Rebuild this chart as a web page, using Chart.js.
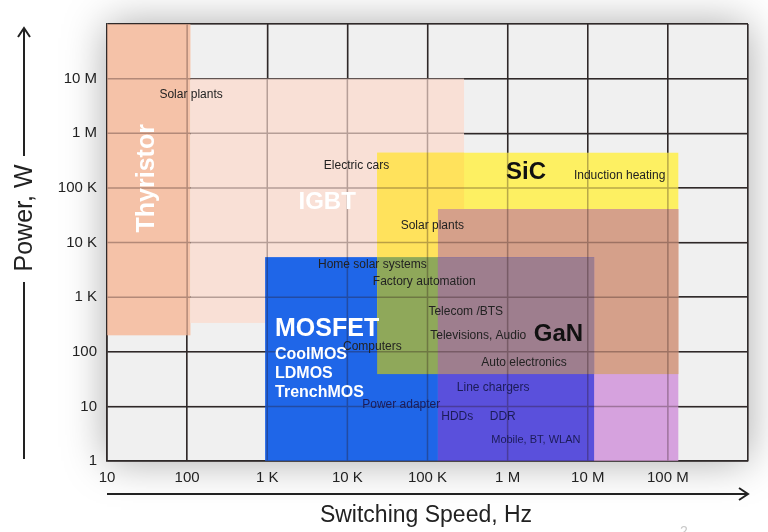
<!DOCTYPE html>
<html>
<head>
<meta charset="utf-8">
<script src="https://cdn.jsdelivr.net/npm/chart.js@4.4.1/dist/chart.umd.min.js"></script>
<style>
  body { margin: 0; background: #fff; }
  canvas { display: block; }
</style>
</head>
<body>
<canvas id="chart" width="768" height="532"></canvas>
<script>
// axis ticks (Hz and W, log scales)
const xTickValues = [10, 100, 1e3, 1e4, 1e5, 1e6, 1e7, 1e8, 1e9];
const xTickLabels = ["10", "100", "1 K", "10 K", "100 K", "1 M", "10 M", "100 M", ""];
const yTickValues = [1, 10, 100, 1e3, 1e4, 1e5, 1e6, 1e7, 1e8];
const yTickLabels = ["1", "10", "100", "1 K", "10 K", "100 K", "1 M", "10 M", ""];

// device regions: frequency range and power range
const regionNames = ["Thyristor", "IGBT", "SiC", "MOSFET", "GaN"];
const regionFreqMin = [10, 110, 2.35e4, 940, 1.35e5];
const regionFreqMax = [110, 2.86e5, 1.35e8, 1.2e7, 1.35e8];
const regionPowerMin = [200, 337, 39, 1, 1];
const regionPowerMax = [1e8, 1e7, 4.4e5, 5.4e3, 4.1e4];

// application labels placed at (frequency, power)
const appTexts = ["Solar plants", "Electric cars", "Induction heating", "Solar plants",
  "Home solar systems", "Factory automation", "Telecom /BTS", "Televisions, Audio",
  "Computers", "Auto electronics", "Line chargers", "Power adapter", "HDDs", "DDR",
  "Mobile, BT, WLAN"];
const appFreq = [112, 1.3e4, 2.5e7, 1.15e5, 2.05e4, 9.1e4, 3e5, 4.3e5, 2.05e4, 1.6e6,
  6.6e5, 4.7e4, 2.35e5, 8.7e5, 2.25e6];
const appPower = [5e6, 2.5e5, 1.65e5, 2e4, 3.9e3, 1.9e3, 535, 195, 123, 62,
  21.8, 10.6, 6.4, 6.4, 2.4];

// technology names placed at (frequency, power)
const techTexts = ["Thyristor", "IGBT", "SiC", "GaN", "MOSFET", "CoolMOS", "LDMOS", "TrenchMOS"];
const techFreq = [32, 5.6e3, 1.7e6, 4.3e6, 1.25e3, 1.25e3, 1.25e3, 1.25e3];
const techPower = [1.5e5, 5.5e4, 1.9e5, 212, 262, 87, 39, 17.6];

// styling
const FONT = "'Liberation Sans', Arial, sans-serif";
const regionColors = {
  Thyristor: "#f5c2a8", IGBT: "#f9e0d6", SiC: "#fdf062", MOSFET: "#1f66e8", GaN: "#d6a2de"
};
const overlapColors = [
  [["IGBT", "SiC"], "#ffe25c"],
  [["SiC", "MOSFET"], "#8fa85a"],
  [["SiC", "GaN"], "#d5a08a"],
  [["MOSFET", "GaN"], "#5a50dc"],
  [["SiC", "MOSFET", "GaN"], "#9e7e8e"]
];
const navyLabels = ["Line chargers", "Power adapter", "HDDs", "DDR", "Mobile, BT, WLAN"];

function regionRect(name) {
  const i = regionNames.indexOf(name);
  return { x0: regionFreqMin[i], x1: regionFreqMax[i], y0: regionPowerMin[i], y1: regionPowerMax[i] };
}

function intersect(names) {
  let r = regionRect(names[0]);
  names.slice(1).forEach(n => {
    const o = regionRect(n);
    r = { x0: Math.max(r.x0, o.x0), x1: Math.min(r.x1, o.x1), y0: Math.max(r.y0, o.y0), y1: Math.min(r.y1, o.y1) };
  });
  return r;
}

const regionsPlugin = {
  id: "regions",
  beforeDraw(chart) {
    const { ctx, chartArea: a } = chart;
    ctx.save();
    ctx.shadowColor = "rgba(0,0,0,0.35)";
    ctx.shadowBlur = 40;
    ctx.fillStyle = "#f0f0f0";
    ctx.fillRect(a.left, a.top, a.right - a.left, a.bottom - a.top);
    ctx.restore();
  },
  beforeDatasetsDraw(chart) {
    const { ctx, chartArea: a } = chart;
    const xs = chart.scales.x, ys = chart.scales.y;
    const fillRect = (r, color) => {
      if (r.x0 >= r.x1 || r.y0 >= r.y1) return;
      const px0 = xs.getPixelForValue(r.x0), px1 = xs.getPixelForValue(r.x1);
      const py0 = ys.getPixelForValue(r.y0), py1 = ys.getPixelForValue(r.y1);
      ctx.fillStyle = color;
      ctx.fillRect(px0, py1, px1 - px0, py0 - py1);
    };
    ctx.save();
    regionNames.forEach(n => fillRect(regionRect(n), regionColors[n]));
    overlapColors.forEach(([names, color]) => fillRect(intersect(names), color));

    // grid shows through the coloured areas
    ctx.strokeStyle = "rgba(40,20,20,0.32)";
    ctx.lineWidth = 1.5;
    ctx.beginPath();
    xTickValues.forEach(v => {
      const p = xs.getPixelForValue(v);
      ctx.moveTo(p, a.top); ctx.lineTo(p, a.bottom);
    });
    yTickValues.forEach(v => {
      const p = ys.getPixelForValue(v);
      ctx.moveTo(a.left, p); ctx.lineTo(a.right, p);
    });
    ctx.stroke();
    ctx.restore();
  },
  afterDatasetsDraw(chart) {
    const { ctx, chartArea: a } = chart;
    const xs = chart.scales.x, ys = chart.scales.y;
    ctx.save();
    ctx.textBaseline = "middle";

    appTexts.forEach((t, i) => {
      ctx.font = (t === "Mobile, BT, WLAN" ? "11px " : "12px ") + FONT;
      ctx.fillStyle = navyLabels.includes(t) ? "#1c1c58" : "#222";
      ctx.textAlign = "center";
      ctx.fillText(t, xs.getPixelForValue(appFreq[i]), ys.getPixelForValue(appPower[i]));
    });

    techTexts.forEach((t, i) => {
      const px = xs.getPixelForValue(techFreq[i]), py = ys.getPixelForValue(techPower[i]);
      if (t === "Thyristor") {
        ctx.save();
        ctx.translate(px, py);
        ctx.rotate(-Math.PI / 2);
        ctx.font = "bold 25px " + FONT;
        ctx.fillStyle = "#fff";
        ctx.textAlign = "center";
        ctx.fillText(t, 0, 0);
        ctx.restore();
        return;
      }
      const small = ["CoolMOS", "LDMOS", "TrenchMOS"].includes(t);
      ctx.font = "bold " + (small ? 16 : (t === "MOSFET" ? 25 : 24)) + "px " + FONT;
      ctx.fillStyle = (t === "SiC" || t === "GaN") ? "#111" : "#fff";
      ctx.textAlign = (t === "MOSFET" || small) ? "left" : "center";
      ctx.fillText(t, px, py);
    });

    // axis arrows and titles
    ctx.strokeStyle = "#222";
    ctx.fillStyle = "#222";
    ctx.lineWidth = 2;
    const ay = a.bottom + 33;
    ctx.beginPath();
    ctx.moveTo(a.left, ay); ctx.lineTo(a.right, ay);
    ctx.moveTo(a.right - 9, ay - 6); ctx.lineTo(a.right, ay); ctx.lineTo(a.right - 9, ay + 6);
    ctx.stroke();

    const ax = 24, titleY = 218;
    ctx.beginPath();
    ctx.moveTo(ax, a.bottom - 2); ctx.lineTo(ax, titleY + 64);
    ctx.moveTo(ax, titleY - 62); ctx.lineTo(ax, a.top + 4);
    ctx.moveTo(ax - 6, a.top + 13); ctx.lineTo(ax, a.top + 4); ctx.lineTo(ax + 6, a.top + 13);
    ctx.stroke();

    ctx.font = "25px " + FONT;
    ctx.textAlign = "center";
    ctx.save();
    ctx.translate(ax + 1, titleY);
    ctx.rotate(-Math.PI / 2);
    ctx.fillText("Power, W", 0, 0);
    ctx.restore();

    ctx.font = "23px " + FONT;
    ctx.fillText("Switching Speed, Hz", 426, 516);

    ctx.font = "14px " + FONT;
    ctx.fillStyle = "#c8c8c8";
    ctx.fillText("2", 684, 532);
    ctx.restore();
  }
};

const axisFont = { family: FONT, size: 15 };

new Chart(document.getElementById("chart"), {
  type: "scatter",
  data: { datasets: [] },
  options: {
    responsive: false,
    animation: false,
    layout: { padding: { top: 24, right: 20, left: 0, bottom: 0 } },
    plugins: { legend: { display: false }, tooltip: { enabled: false } },
    scales: {
      x: {
        type: "logarithmic",
        min: 10,
        max: 1e9,
        afterBuildTicks: s => { s.ticks = xTickValues.map(v => ({ value: v })); },
        afterFit: s => { s.height = 71; },
        ticks: {
          callback: (v, i) => xTickLabels[i],
          font: axisFont,
          color: "#222",
          padding: 8,
          maxRotation: 0,
          autoSkip: false
        },
        grid: { color: "#333", lineWidth: 1.5, drawTicks: false },
        border: { color: "#333", width: 1.5 }
      },
      y: {
        type: "logarithmic",
        min: 1,
        max: 1e8,
        afterBuildTicks: s => { s.ticks = yTickValues.map(v => ({ value: v })); },
        afterFit: s => { s.width = 107; },
        ticks: {
          callback: (v, i) => yTickLabels[i],
          font: axisFont,
          color: "#222",
          padding: 10,
          autoSkip: false
        },
        grid: { color: "#333", lineWidth: 1.5, drawTicks: false },
        border: { color: "#333", width: 1.5 }
      }
    }
  },
  plugins: [regionsPlugin]
});
</script>
</body>
</html>
